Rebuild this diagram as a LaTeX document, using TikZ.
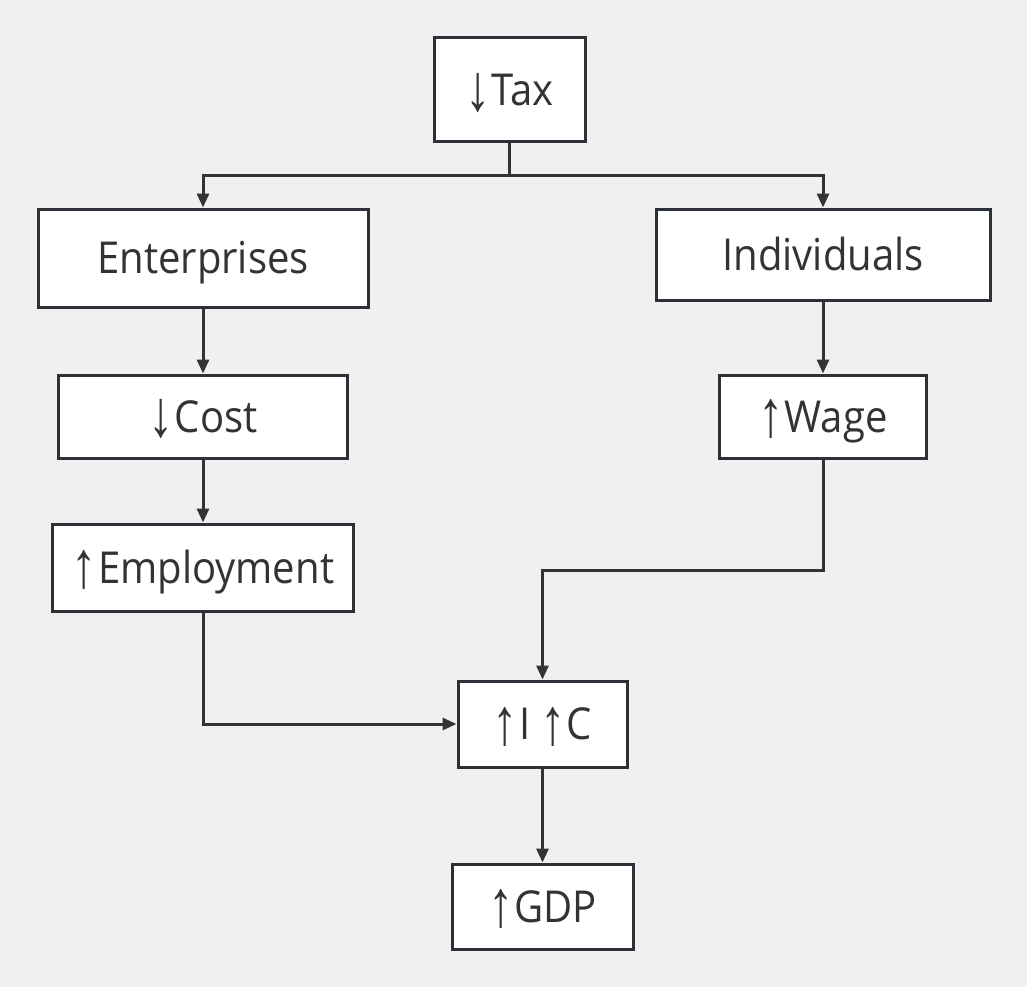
\documentclass[tikz,border=0pt]{standalone}
\usepackage{fontspec}
\usepackage{graphicx}
\setmainfont{Open Sans}[FakeStretch=0.91]
\newfontfamily\arr{Liberation Sans}
\usetikzlibrary{arrows.meta}
\definecolor{bg}{HTML}{F0F0F0}
\definecolor{edge}{HTML}{2B3136}
\definecolor{ln}{HTML}{333333}
\definecolor{txt}{HTML}{333333}
\newcommand{\up}{\raisebox{-0.1em}{\scalebox{1.15}[1.5]{\arr ↑}}\kern0.02em}
\newcommand{\dn}{\raisebox{-0.1em}{\scalebox{1.15}[1.5]{\arr ↓}}\kern0.02em}
\tikzset{
  box/.style={draw=edge, fill=white, line width=3pt, inner sep=0pt, text=txt,
    font=\fontsize{44}{52}\selectfont, text height=31.4pt, text depth=0pt},
  conn/.style={draw=ln, line width=3pt, -{Triangle[length=14pt,width=12pt]}},
  plain/.style={draw=ln, line width=3pt}
}
\begin{document}
\begin{tikzpicture}[x=1pt,y=-1pt]
\useasboundingbox[fill=bg] (0,0) rectangle (1027,987);
\node[box, minimum width=151pt, minimum height=104pt] (tax) at (509.5,90) {\dn Tax};
\node[box, minimum width=330pt, minimum height=98pt] (ent) at (203,258) {Enterprises};
\node[box, minimum width=334pt, minimum height=91pt] (ind) at (823,254.5) {Individuals};
\node[box, minimum width=289pt, minimum height=83pt] (cost) at (203,416.5) {\dn Cost};
\node[box, minimum width=207pt, minimum height=83pt] (wage) at (823,416.5) {\up Wage};
\node[box, minimum width=301pt, minimum height=87pt] (emp) at (203,567.5) {\up Employment};
\node[box, minimum width=169pt, minimum height=86pt] (ic) at (542.5,724) {\up I \up C};
\node[box, minimum width=181pt, minimum height=85pt] (gdp) at (542.5,906.5) {\up GDP};
\coordinate (j) at (tax.south |- 0,176);
\draw[plain] (tax.south) -- (j);
\draw[conn] (j) -| (ent.north);
\draw[conn] (j) -| (ind.north);
\draw[conn] (ent) -- (cost);
\draw[conn] (ind) -- (wage);
\draw[conn] (cost) -- (emp);
\coordinate (w1) at (wage.south |- 0,570);
\draw[conn] (wage.south) -- (w1) -| (ic.north);
\draw[conn] (emp.south) |- (ic.west);
\draw[conn] (ic) -- (gdp);
\end{tikzpicture}
\end{document}
